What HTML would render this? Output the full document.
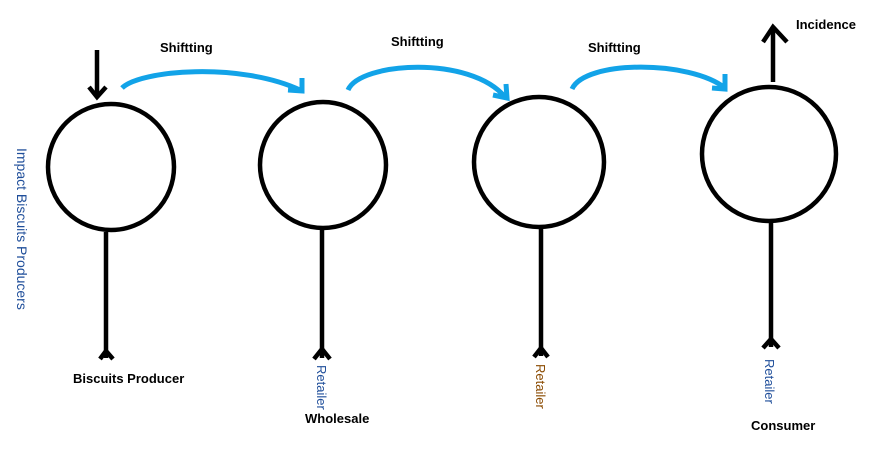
<!DOCTYPE html>
<html><head><style>
body{margin:0;background:#fff}
svg{display:block}
.b{font-family:"Liberation Sans",sans-serif;font-weight:bold;font-size:13px;fill:#000}
.r{font-family:"Liberation Sans",sans-serif;font-size:13px;fill:#1f4e9a}
</style></head><body>
<svg width="874" height="457" viewBox="0 0 874 457">
<g fill="none" stroke="#000" stroke-width="4.5">
<circle cx="111" cy="167" r="63"/>
<circle cx="323" cy="165" r="63"/>
<circle cx="539" cy="162" r="65"/>
<circle cx="769" cy="154" r="67"/>
<line x1="106" y1="232" x2="106" y2="358"/>
<line x1="322" y1="230" x2="322" y2="358"/>
<line x1="541" y1="226" x2="541" y2="356"/>
<line x1="771" y1="221" x2="771" y2="347"/>
<path d="M100 359 L106 351 L113 359"/>
<path d="M314 359 L322 349 L330 359"/>
<path d="M534 357 L541 348 L548 357"/>
<path d="M763 348 L771 339 L779 348"/>
<line x1="97" y1="50" x2="97" y2="97"/>
<path d="M89 87 L97 97 L106 87"/>
<line x1="773" y1="82" x2="773" y2="27"/>
<path d="M763 42 L773 27 L787 42"/>
</g>
<g fill="none" stroke="#12a3e8" stroke-width="5">
<path d="M122 88 C140 70 240 62 300 90"/>
<path d="M288 90 L302 91 L302 78"/>
<path d="M348 90 C360 62 470 55 505 97"/>
<path d="M493 95 L507 98 L506 84"/>
<path d="M572 89 C585 60 690 60 725 88"/>
<path d="M712 88 L725 89 L725 74"/>
</g>
<text class="b" x="160" y="52">Shiftting</text>
<text class="b" x="391" y="46">Shiftting</text>
<text class="b" x="588" y="52">Shiftting</text>
<text class="b" x="796" y="29">Incidence</text>
<text class="b" x="73" y="383">Biscuits Producer</text>
<text class="b" x="305" y="423">Wholesale</text>
<text class="b" x="751" y="430">Consumer</text>
<text class="r" transform="translate(317,365) rotate(90)">Retailer</text>
<text class="r" transform="translate(536,364) rotate(90)" style="fill:#8a4a00">Retailer</text>
<text class="r" transform="translate(765,359) rotate(90)">Retailer</text>
<text class="r" style="font-size:14px" transform="translate(17,148) rotate(90)">Impact Biscuits Producers</text>
</svg>
</body></html>
